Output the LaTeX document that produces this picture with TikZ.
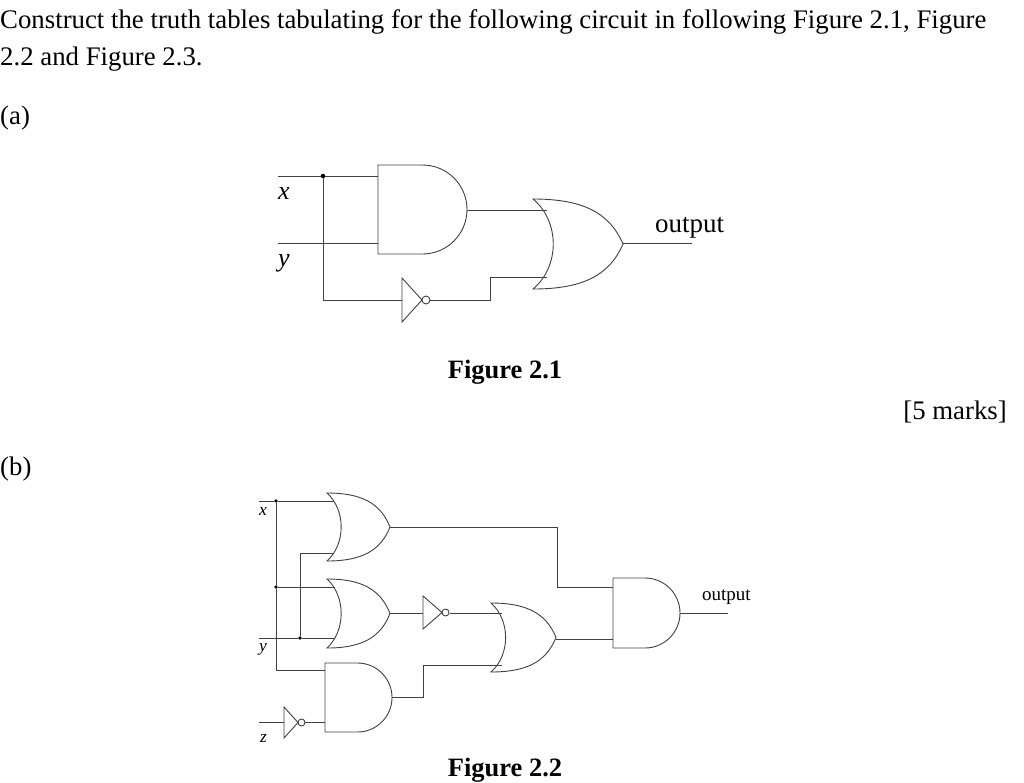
\documentclass[tikz,border=0pt]{standalone}
\usepackage{fontspec}
\setmainfont{Liberation Serif}
\newcommand\ANDg[4]{% l t b r
  \pgfmathsetmacro\hh{(#3-#2)/2}\pgfmathsetmacro\fl{#4-\hh}
  \draw[gate] (\fl,#2) -- (#1,#2) -- (#1,#3) -- (\fl,#3) arc[start angle=90,end angle=-90,radius=\hh];}
\newcommand\ORg[4]{% l t b tipx
  \pgfmathsetmacro\hq{(#3-#2)/4}\pgfmathsetmacro\mm{(#2+#3)/2}\pgfmathsetmacro\ww{#4-#1}
  \draw[gate] (#1,#2) .. controls (#1+0.3*\ww,#2+\hq) and (#1+0.3*\ww,#3-\hq) .. (#1,#3)
    .. controls (#1+0.55*\ww,#3) and (#1+0.85*\ww,#3-0.6*\hq) .. (#4,\mm)
    .. controls (#1+0.85*\ww,#2+0.6*\hq) and (#1+0.55*\ww,#2) .. cycle;}
\newcommand\NOTg[5]{% l t b tip r
  \pgfmathsetmacro\mm{(#2+#3)/2}
  \draw[gate] (#1,#2) -- (#1,#3) -- (#4,\mm) -- cycle;
  \draw[gate] (#4+#5,\mm) circle[radius=#5];}
\begin{document}
\begin{tikzpicture}[x=1pt,y=-1pt,gate/.style={draw=black!75,line width=0.9pt},
  wire/.style={black!75,line width=0.9pt},dot/.style={circle,fill,inner sep=1.6pt},
  txt/.style={inner sep=0,anchor=base west,font=\fontsize{26.8}{30}\selectfont}]
\useasboundingbox (0,0) rectangle (1024,782);
\node[txt] (t1) at (0,28) {Construct the truth tables tabulating for the following circuit in following Figure 2.1, Figure};
\node[txt] (t2) at (0,65) {2.2 and Figure 2.3.};
\node[txt] (a) at (0,124) {(a)};
\node[txt] (b) at (0,475) {(b)};
\node[txt,anchor=base east] (m) at (1007,419) {[5 marks]};
\node[txt,anchor=base,font=\bfseries\fontsize{26.5}{30}\selectfont] (c1) at (505,378) {Figure 2.1};
\node[txt,anchor=base,font=\bfseries\fontsize{26.5}{30}\selectfont] (c2) at (505,776) {Figure 2.2};
% Figure 2.1
\ANDg{378}{165}{254}{467}
\ORg{533}{199}{289}{623}
\NOTg{402}{278}{322}{422}{4}
\node[dot] (d1) at (323,176) {};
\draw[wire] (278,176) -- (d1) -- (378,176);
\draw[wire] (278,243) -- (378,243);
\draw[wire] (d1) -- (323,300) -- (402,300);
\draw[wire] (430,300) -- (490,300) -- (490,277) -- (547,277);
\draw[wire] (467,210) -- (547,210);
\draw[wire] (623,243) -- (692,243);
\node[txt,font=\itshape\fontsize{26}{30}\selectfont] (lx) at (278,199) {x};
\node[txt,font=\itshape\fontsize{26}{30}\selectfont] (ly) at (278,266) {y};
\node[txt,font=\fontsize{27}{30}\selectfont] (o1) at (655,232) {output};
% Figure 2.2
\ORg{327}{493}{561}{390}
\ORg{327}{579}{648}{390}
\ORg{491}{603}{672}{556}
\ANDg{325}{663}{732}{392}
\ANDg{613}{578}{648}{680}
\NOTg{423}{596}{629}{442}{3.5}
\NOTg{284}{707}{738}{298}{3.5}
\node[dot,inner sep=1.3pt] (d2) at (276,501) {};
\node[dot,inner sep=1.3pt] (d3) at (276,587) {};
\node[dot,inner sep=1.3pt] (d4) at (300,638) {};
\draw[wire] (259,501) -- (d2) -- (334,501);
\draw[wire] (d2) -- (d3) -- (276,670) -- (325,670);
\draw[wire] (d3) -- (335,587);
\draw[wire] (259,638) -- (d4) -- (335,638);
\draw[wire] (d4) -- (300,553) -- (334,553);
\draw[wire] (390,527) -- (557,527) -- (557,587) -- (613,587);
\draw[wire] (390,613) -- (423,613);
\draw[wire] (449.5,613) -- (502,613);
\draw[wire] (556,639) -- (613,639);
\draw[wire] (392,697) -- (423,697) -- (423,665) -- (502,665);
\draw[wire] (259,722) -- (284,722);
\draw[wire] (305,722) -- (325,722);
\draw[wire] (680,613) -- (728,613);
\node[txt,font=\itshape\fontsize{17.5}{20}\selectfont] (lx2) at (259,515) {x};
\node[txt,font=\itshape\fontsize{17.5}{20}\selectfont] (ly2) at (259,651) {y};
\node[txt,font=\itshape\fontsize{17.5}{20}\selectfont] (lz2) at (260,742) {z};
\node[txt,font=\fontsize{19}{22}\selectfont] (o2) at (702,600) {output};
\end{tikzpicture}
\end{document}
